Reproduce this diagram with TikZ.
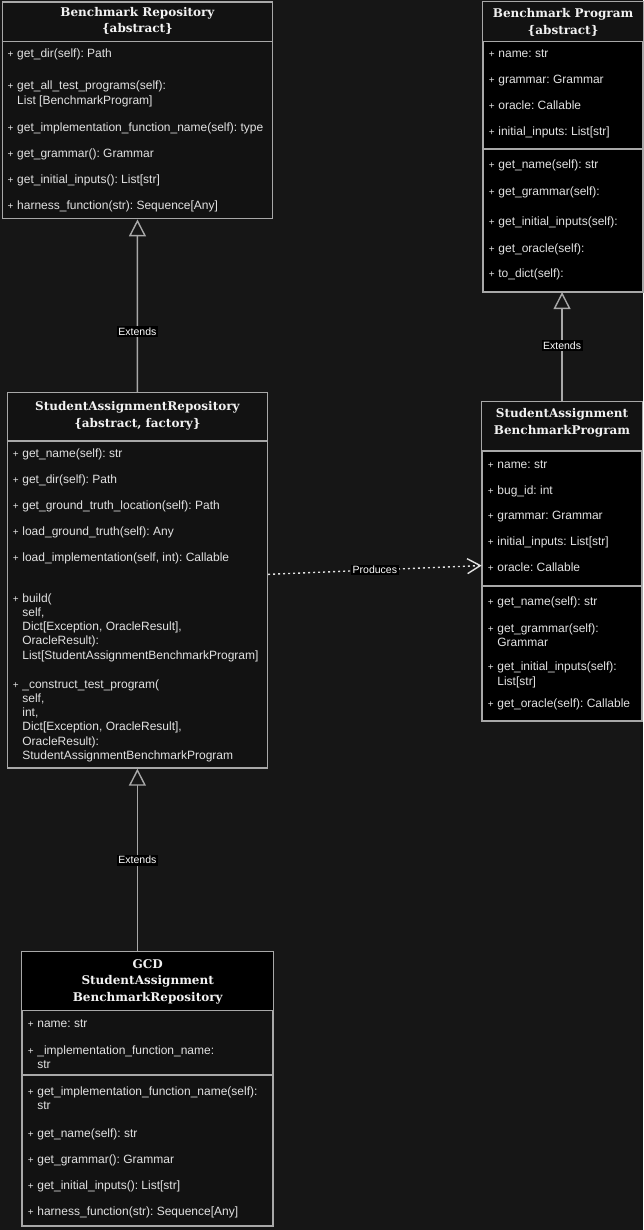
\documentclass[tikz,border=0pt]{standalone}
\usepackage{fontspec}
\setmainfont{Liberation Sans}
\newfontfamily\titlefont{DejaVu Serif}
\usetikzlibrary{arrows.meta}
\frenchspacing
\definecolor{bgc}{HTML}{161616}
\definecolor{darkc}{HTML}{121212}
\definecolor{bordc}{HTML}{A8A8A8}
\definecolor{txtc}{HTML}{E2E2E2}
\definecolor{titc}{HTML}{F2F2F2}
\newcommand\pl{\makebox[9.5pt][l]{\fontsize{10}{10}\selectfont+}}
\newcommand\ind{\hspace*{9.5pt}}
\tikzset{
  boxn/.style={draw=bordc, line width=1.4pt, rectangle, inner sep=0pt, anchor=north west},
  ttl/.style={font=\titlefont\bfseries\fontsize{12}{16.5}\selectfont, text=titc, align=center, inner sep=0pt},
  item/.style={font=\fontsize{12}{14}\selectfont, text=txtc, anchor=base west, inner sep=0pt},
  sepl/.style={draw=bordc, line width=1.4pt},
  ext/.style={draw=bordc, line width=1.4pt, -{Triangle[open, length=17pt, width=17pt, fill=bgc]}},
  prod/.style={draw=txtc, line width=1.4pt, dash pattern=on 2pt off 3pt, -{Straight Barb[length=13pt, width=15pt]}},
  lbl/.style={fill=black, text=white, font=\fontsize{10.5}{12}\selectfont, inner sep=1.5pt},
}
\begin{document}
\begin{tikzpicture}[x=1pt,y=-1pt]
\fill[bgc] (0,0) rectangle (643,1230);
\useasboundingbox (0,0) rectangle (643,1230);

% ---------- Box 1: Benchmark Repository ----------
\node[boxn, fill=darkc, minimum width=270.5pt, minimum height=216.5pt] (br) at (1.5,1.5) {};
\draw[sepl] (br.west |- 0,41.5) -- (br.east |- 0,41.5);
\node[ttl] (brt) at (br.north |- 0,21) {Benchmark Repository\\\{abstract\}};
\node[item] (br1) at (7.5,57.3) {\pl get\_dir(self): Path};
\node[item] (br2) at (7.5,90) {\pl get\_all\_test\_programs(self):};
\node[item] (br3) at (7.5,104.7) {\ind List [BenchmarkProgram]};
\node[item] (br4) at (7.5,131.7) {\pl get\_implementation\_function\_name(self): type};
\node[item] (br5) at (7.5,158) {\pl get\_grammar(): Grammar};
\node[item] (br6) at (7.5,184) {\pl get\_initial\_inputs(): List[str]};
\node[item] (br7) at (7.5,209.7) {\pl harness\_function(str): Sequence[Any]};

% ---------- Box 2: Benchmark Program ----------
\node[boxn, fill=black, minimum width=159.3pt, minimum height=289.2pt] (bp) at (482.7,1.5) {};
\fill[darkc] (bp.north west) rectangle (bp.east |- 0,41.5);
\draw[sepl] (bp.north west) rectangle (bp.south east);
\draw[sepl] (bp.west |- 0,41.5) -- (bp.east |- 0,41.5);
\draw[sepl] (bp.west |- 0,149) -- (bp.east |- 0,149);
\node[ttl] (bpt) at (bp.north |- 0,22.5) {Benchmark Program\\\{abstract\}};
\node[item] (bp1) at (488.7,57.3) {\pl name: str};
\node[item] (bp2) at (488.7,83.3) {\pl grammar: Grammar};
\node[item] (bp3) at (488.7,109.3) {\pl oracle: Callable};
\node[item] (bp4) at (488.7,135.3) {\pl initial\_inputs: List[str]};
\node[item] (bp5) at (488.7,169) {\pl get\_name(self): str};
\node[item] (bp6) at (488.7,195.7) {\pl get\_grammar(self):};
\node[item] (bp7) at (488.7,225.7) {\pl get\_initial\_inputs(self):};
\node[item] (bp8) at (488.7,252.3) {\pl get\_oracle(self):};
\node[item] (bp9) at (488.7,278) {\pl to\_dict(self):};

% ---------- Box 3: StudentAssignmentRepository ----------
\node[boxn, fill=darkc, minimum width=260pt, minimum height=375.3pt] (sar) at (6.7,392) {};
\draw[sepl] (sar.west |- 0,441) -- (sar.east |- 0,441);
\node[ttl] (sart) at (sar.north |- 0,415.7) {StudentAssignmentRepository\\\{abstract, factory\}};
\node[item] (sa1) at (12.7,457.3) {\pl get\_name(self): str};
\node[item] (sa2) at (12.7,483.3) {\pl get\_dir(self): Path};
\node[item] (sa3) at (12.7,509.3) {\pl get\_ground\_truth\_location(self): Path};
\node[item] (sa4) at (12.7,535.3) {\pl load\_ground\_truth(self): Any};
\node[item] (sa5) at (12.7,561) {\pl load\_implementation(self, int): Callable};
\node[item] (sa6) at (12.7,602.3) {\pl build(};
\node[item] (sa7) at (12.7,616.3) {\ind self,};
\node[item] (sa8) at (12.7,630.7) {\ind Dict[Exception, OracleResult],};
\node[item] (sa9) at (12.7,644.7) {\ind OracleResult):};
\node[item] (sa10) at (12.7,659.3) {\ind List[StudentAssignmentBenchmarkProgram]};
\node[item] (sa11) at (12.7,688) {\pl \_construct\_test\_program(};
\node[item] (sa12) at (12.7,702.3) {\ind self,};
\node[item] (sa13) at (12.7,716.3) {\ind int,};
\node[item] (sa14) at (12.7,730.7) {\ind Dict[Exception, OracleResult],};
\node[item] (sa15) at (12.7,745) {\ind OracleResult):};
\node[item] (sa16) at (12.7,759.7) {\ind StudentAssignmentBenchmarkProgram};

% ---------- Box 4: StudentAssignment BenchmarkProgram ----------
\node[boxn, fill=black, minimum width=159.3pt, minimum height=318.3pt] (sabp) at (481.7,401.7) {};
\fill[darkc] (sabp.north west) rectangle (sabp.east |- 0,451);
\draw[sepl] (sabp.north west) rectangle (sabp.south east);
\draw[sepl] (sabp.west |- 0,451) -- (sabp.east |- 0,451);
\draw[sepl] (sabp.west |- 0,586) -- (sabp.east |- 0,586);
\node[ttl] (sabpt) at (sabp.north |- 0,422.7) {StudentAssignment\\BenchmarkProgram};
\node[item] (sb1) at (487.7,468) {\pl name: str};
\node[item] (sb2) at (487.7,494) {\pl bug\_id: int};
\node[item] (sb3) at (487.7,519.7) {\pl grammar: Grammar};
\node[item] (sb4) at (487.7,545.7) {\pl initial\_inputs: List[str]};
\node[item] (sb5) at (487.7,571.7) {\pl oracle: Callable};
\node[item] (sb6) at (487.7,605) {\pl get\_name(self): str};
\node[item] (sb7) at (487.7,632.3) {\pl get\_grammar(self):};
\node[item] (sb8) at (487.7,646.3) {\ind Grammar};
\node[item] (sb9) at (487.7,670.7) {\pl get\_initial\_inputs(self):};
\node[item] (sb10) at (487.7,685) {\ind List[str]};
\node[item] (sb11) at (487.7,707.3) {\pl get\_oracle(self): Callable};

% ---------- Box 5: GCD StudentAssignment BenchmarkRepository ----------
\node[boxn, fill=darkc, minimum width=250.6pt, minimum height=273.3pt] (gcd) at (21.7,951.7) {};
\fill[black] (gcd.north west) rectangle (gcd.east |- 0,1010.7);
\draw[sepl] (gcd.north west) rectangle (gcd.south east);
\draw[sepl] (gcd.west |- 0,1010.7) -- (gcd.east |- 0,1010.7);
\draw[sepl] (gcd.west |- 0,1075) -- (gcd.east |- 0,1075);
\node[ttl] (gcdt) at (gcd.north |- 0,981.7) {GCD\\StudentAssignment\\BenchmarkRepository};
\node[item] (gc1) at (27.7,1027.3) {\pl name: str};
\node[item] (gc2) at (27.7,1054) {\pl \_implementation\_function\_name:};
\node[item] (gc3) at (27.7,1068) {\ind str};
\node[item] (gc4) at (27.7,1095.7) {\pl get\_implementation\_function\_name(self):};
\node[item] (gc5) at (27.7,1109.7) {\ind str};
\node[item] (gc6) at (27.7,1137.3) {\pl get\_name(self): str};
\node[item] (gc7) at (27.7,1163.3) {\pl get\_grammar(): Grammar};
\node[item] (gc8) at (27.7,1189.7) {\pl get\_initial\_inputs(): List[str]};
\node[item] (gc9) at (27.7,1215.7) {\pl harness\_function(str): Sequence[Any]};

% ---------- Connectors ----------
\draw[ext] (sar.north) -- node[lbl, pos=0.35] (e1) {Extends} (br.south);
\draw[ext] (sar.south |- gcd.north) -- node[lbl, pos=0.5] (e2) {Extends} (sar.south);
\draw[ext] (sabp.north) -- node[lbl, pos=0.51] (e3) {Extends} (bp.south -| sabp.north);
\draw[prod] ([yshift=6pt]sar.east) -- node[lbl, pos=0.5] (p1) {Produces} ([yshift=-4pt]sabp.west);
\end{tikzpicture}
\end{document}
